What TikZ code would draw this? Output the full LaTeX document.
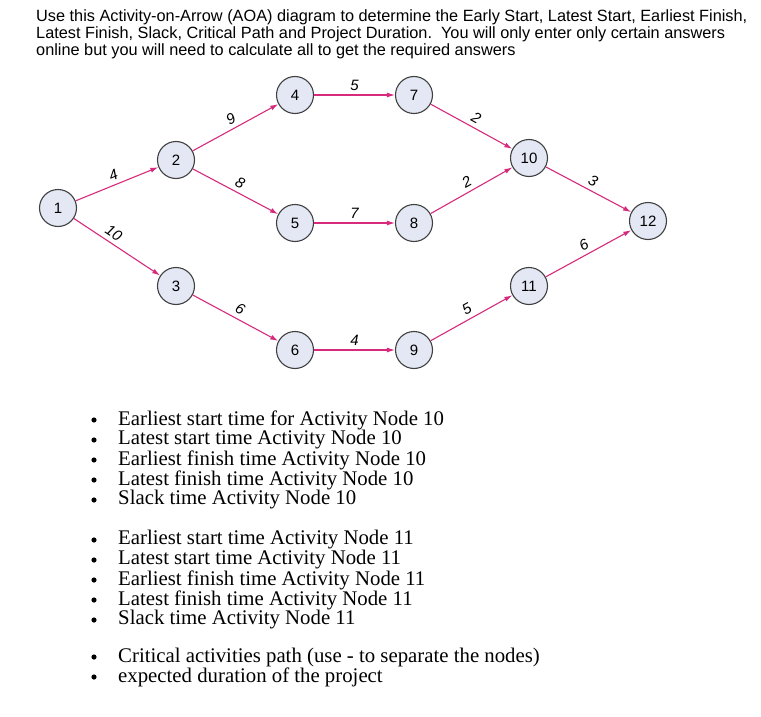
\documentclass[tikz,border=0pt]{standalone}
\usepackage{fontspec}
\setmainfont{Liberation Serif}
\setsansfont{Liberation Sans}
\usetikzlibrary{arrows.meta}
\definecolor{edgec}{RGB}{214,42,124}
\definecolor{nodef}{RGB}{228,232,244}
\begin{document}
\begin{tikzpicture}[x=1pt,y=-1pt,
  ev/.style={circle,draw=black!75,line width=1.1pt,fill=nodef,minimum size=37pt,inner sep=0pt,font=\sffamily\fontsize{15}{16}\selectfont},
  act/.style={draw=edgec,line width=1.1pt,-{Latex[length=8pt,width=5pt]}},
  lab/.style={font=\sffamily\itshape\fontsize{15}{16}\selectfont,sloped,above,inner sep=4pt},
  hdr/.style={font=\sffamily\fontsize{16.3}{18}\selectfont,anchor=west,inner sep=0pt},
  itm/.style={font=\fontsize{20.8}{22}\selectfont,anchor=west,inner sep=0pt}]
\useasboundingbox (0,0) rectangle (761,717);
\node[hdr] (h1) at (36,17) {Use this Activity-on-Arrow (AOA) diagram to determine the Early Start, Latest Start, Earliest Finish,};
\node[hdr] (h2) at (36,34) {Latest Finish, Slack, Critical Path and Project Duration.\ \ You will only enter only certain answers};
\node[hdr] (h3) at (36,51) {online but you will need to calculate all to get the required answers};
\node[ev] (n1) at (58,208) {1};
\node[ev] (n2) at (176,160) {2};
\node[ev] (n3) at (176,286) {3};
\node[ev] (n4) at (295,95) {4};
\node[ev] (n5) at (295,223) {5};
\node[ev] (n6) at (295,350) {6};
\node[ev] (n7) at (414,95) {7};
\node[ev] (n8) at (414,223) {8};
\node[ev] (n9) at (414,350) {9};
\node[ev] (n10) at (529,158) {10};
\node[ev] (n11) at (529,286) {11};
\node[ev] (n12) at (648,221) {12};
\draw[act] (n1) -- node[lab]{4} (n2);
\draw[act] (n1) -- node[lab,pos=0.4]{10} (n3);
\draw[act] (n2) -- node[lab]{9} (n4);
\draw[act] (n2) -- node[lab]{8} (n5);
\draw[act] (n3) -- node[lab]{6} (n6);
\draw[act] (n4) -- node[lab]{5} (n7);
\draw[act] (n5) -- node[lab]{7} (n8);
\draw[act] (n6) -- node[lab]{4} (n9);
\draw[act] (n7) -- node[lab]{2} (n10);
\draw[act] (n8) -- node[lab]{2} (n10);
\draw[act] (n9) -- node[lab]{5} (n11);
\draw[act] (n10) -- node[lab]{3} (n12);
\draw[act] (n11) -- node[lab]{6} (n12);
\foreach \t [count=\i] in {Earliest start time for Activity Node 10,Latest start time Activity Node 10,Earliest finish time Activity Node 10,Latest finish time Activity Node 10,Slack time Activity Node 10}
  {\node[itm] (a\i) at (118,{400+20*\i}) {\t}; \fill (94,{400+20*\i}) circle (2.6pt);}
\foreach \t [count=\i] in {Earliest start time Activity Node 11,Latest start time Activity Node 11,Earliest finish time Activity Node 11,Latest finish time Activity Node 11,Slack time Activity Node 11}
  {\node[itm] (b\i) at (118,{520+20*\i}) {\t}; \fill (94,{520+20*\i}) circle (2.6pt);}
\foreach \t [count=\i] in {Critical activities path (use - to separate the nodes),expected duration of the project}
  {\node[itm] (c\i) at (118,{637+20*\i}) {\t}; \fill (94,{637+20*\i}) circle (2.6pt);}
\end{tikzpicture}
\end{document}
